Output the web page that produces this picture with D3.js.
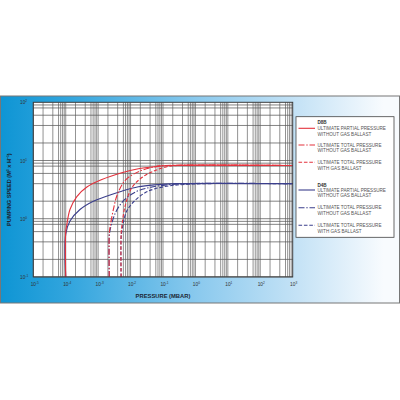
<!DOCTYPE html>
<html>
<head>
<meta charset="utf-8">
<script src="https://cdn.jsdelivr.net/npm/d3@7"></script>
<style>
  body { margin: 0; background: #fff; }
  svg { display: block; font-family: "Liberation Sans", Arial, sans-serif; }
</style>
</head>
<body>
<svg id="chart" width="400" height="400"></svg>
<script>
// pressure (mbar) / pumping speed (m3/h)
const d8bPartialP = [1e-4, 1e-4, 1.07e-4, 1.35e-4, 2.2e-4, 4.5e-4, 1.3e-3, 5.35e-3, 0.0174, 0.057, 0.15, 1000];
const d8bPartialS = [0.1, 0.6, 0.76, 1.44, 2.4, 3.5, 4.7, 6.15, 7.2, 7.85, 8.2, 8.2];
const d8bTotalP = [2.2e-3, 2.2e-3, 2.35e-3, 2.95e-3, 4.0e-3, 7.2e-3, 0.0185, 0.06, 0.12, 1000];
const d8bTotalS = [0.1, 0.55, 0.74, 1.44, 2.7, 4.7, 6.5, 7.85, 8.2, 8.2];
const d8bBallastP = [5.1e-3, 5.1e-3, 5.37e-3, 6.76e-3, 0.0109, 0.0235, 0.06, 0.155, 0.28, 1000];
const d8bBallastS = [0.1, 0.55, 0.74, 1.64, 3.4, 5.2, 6.8, 8.0, 8.2, 8.2];

const d4bPartialP = [1e-4, 1e-4, 1.35e-4, 2.75e-4, 7.1e-4, 1.63e-3, 5.35e-3, 0.0174, 0.057, 0.25, 1000];
const d4bPartialS = [0.1, 0.54, 0.91, 1.44, 2.0, 2.38, 2.97, 3.53, 3.82, 4.0, 4.0];
const d4bTotalP = [2.2e-3, 2.2e-3, 2.35e-3, 3.5e-3, 6.4e-3, 0.0145, 0.04, 0.13, 0.5, 1000];
const d4bTotalS = [0.1, 0.5, 0.65, 1.3, 2.1, 2.9, 3.45, 3.8, 4.0, 4.0];
const d4bBallastP = [5.1e-3, 5.1e-3, 5.37e-3, 7.6e-3, 0.0145, 0.028, 0.057, 0.187, 0.6, 2, 1000];
const d4bBallastS = [0.1, 0.45, 0.6, 1.35, 2.12, 2.79, 3.27, 3.72, 3.9, 4.0, 4.0];

const xExponents = [-5, -4, -3, -2, -1, 0, 1, 2, 3];
const yExponents = [-1, 0, 1, 2];
// the printed grid only carries some of the minor lines per decade
const xGridMults = [1, 2, 4, 6, 7, 8, 9];
const yGridMults = [1, 2, 4, 6, 8, 9];

const legendGroups = ["D8B", "D4B"];
const legendLabels = [
  ["ULTIMATE PARTIAL PRESSURE", "WITHOUT GAS BALLAST"],
  ["ULTIMATE TOTAL PRESSURE", "WITHOUT GAS BALLAST"],
  ["ULTIMATE TOTAL PRESSURE", "WITH GAS BALLAST"]
];

const red = "#e3323c", blue = "#3b3f8c";
const dashDot = "6,1.8,1.4,1.8", dashed = "3.6,1.8";

const series = [
  {p: d4bPartialP, s: d4bPartialS, color: blue, dash: null},
  {p: d4bTotalP, s: d4bTotalS, color: blue, dash: dashDot},
  {p: d4bBallastP, s: d4bBallastS, color: blue, dash: dashed},
  {p: d8bPartialP, s: d8bPartialS, color: red, dash: null},
  {p: d8bTotalP, s: d8bTotalS, color: red, dash: dashDot},
  {p: d8bBallastP, s: d8bBallastS, color: red, dash: dashed}
];

const svg = d3.select("#chart");
const plotL = 33.3, plotR = 292.7, plotT = 102.3, plotB = 276.9;

// background panel
const grad = svg.append("defs").append("linearGradient")
    .attr("id", "bg").attr("x1", "0%").attr("x2", "100%");
[["0%", "#0e95d4"], ["18%", "#34a6de"], ["50%", "#8ccaee"], ["75%", "#c6e3f6"], ["96%", "#f8fbfe"]]
  .forEach(([o, c]) => grad.append("stop").attr("offset", o).attr("stop-color", c));

svg.append("rect")
    .attr("x", 0.5).attr("y", 96).attr("width", 399).attr("height", 207)
    .attr("fill", "url(#bg)").attr("stroke", "#777").attr("stroke-width", 1);

const x = d3.scaleLog().domain([1e-5, 1e3]).range([plotL, plotR]);
const y = d3.scaleLog().domain([0.1, 100]).range([plotB, plotT]);

svg.append("rect")
    .attr("x", plotL).attr("y", plotT).attr("width", plotR - plotL).attr("height", plotB - plotT)
    .attr("fill", "#fff");

// log grid
const xGrid = [], yGrid = [];
xExponents.slice(0, -1).forEach(e => xGridMults.forEach(m => xGrid.push(m * Math.pow(10, e))));
yExponents.slice(0, -1).forEach(e => yGridMults.forEach(m => yGrid.push(m * Math.pow(10, e))));

svg.append("g").selectAll("line").data(xGrid).join("line")
    .attr("x1", d => x(d)).attr("x2", d => x(d))
    .attr("y1", plotT).attr("y2", plotB)
    .attr("stroke", "#6e6e6e").attr("stroke-width", 0.75);
svg.append("g").selectAll("line").data(yGrid).join("line")
    .attr("y1", d => y(d)).attr("y2", d => y(d))
    .attr("x1", plotL).attr("x2", plotR)
    .attr("stroke", "#5a5a5a").attr("stroke-width", 0.75);

// curves
const line = d3.line()
    .x(d => x(d[0])).y(d => y(d[1]))
    .curve(d3.curveCatmullRom.alpha(0.5));

svg.append("g").selectAll("path").data(series).join("path")
    .attr("d", d => line(d.p.map((v, i) => [v, d.s[i]])))
    .attr("fill", "none")
    .attr("stroke", d => d.color)
    .attr("stroke-width", 1.1)
    .attr("stroke-dasharray", d => d.dash);

svg.append("rect")
    .attr("x", plotL).attr("y", plotT).attr("width", plotR - plotL).attr("height", plotB - plotT)
    .attr("fill", "none").attr("stroke", "#3c3c3c").attr("stroke-width", 1);

// tick labels with superscript exponents
const xt = svg.append("g").selectAll("text").data(xExponents).join("text")
    .attr("x", d => x(Math.pow(10, d)) - 2.6)
    .attr("y", 286)
    .attr("font-size", 4.8).attr("fill", "#333");
xt.append("tspan").text("10");
xt.append("tspan").attr("font-size", 3.2).attr("dy", -2).text(d => d);

const yt = svg.append("g").selectAll("text").data(yExponents).join("text")
    .attr("x", 20)
    .attr("y", d => y(Math.pow(10, d)) + 2)
    .attr("font-size", 4.8).attr("fill", "#333");
yt.append("tspan").text("10");
yt.append("tspan").attr("font-size", 3.2).attr("dy", -2).text(d => d);

svg.append("text")
    .attr("x", (plotL + plotR) / 2).attr("y", 298)
    .attr("text-anchor", "middle")
    .attr("font-size", 5.8).attr("font-weight", "bold").attr("fill", "#1c2633")
    .text("PRESSURE (MBAR)");

svg.append("text")
    .attr("transform", `translate(10.5,${(plotT + plotB) / 2}) rotate(-90)`)
    .attr("text-anchor", "middle")
    .attr("font-size", 5.6).attr("font-weight", "bold").attr("fill", "#1c2633")
    .text("PUMPING SPEED (M³ x H⁻¹)");

// legend
svg.append("rect")
    .attr("x", 296).attr("y", 116.7).attr("width", 98).attr("height", 120.6)
    .attr("fill", "#fff").attr("stroke", "#444").attr("stroke-width", 0.8);

const lg = svg.append("g").selectAll("g").data(series.slice(3).concat(series.slice(0, 3))).join("g")
    .attr("transform", (d, i) => `translate(0,${[128.3, 145, 162.3, 190, 207.7, 225.3][i]})`);

lg.append("line")
    .attr("x1", 298.5).attr("x2", 315).attr("y1", 0).attr("y2", 0)
    .attr("stroke", d => d.color).attr("stroke-width", 1.1)
    .attr("stroke-dasharray", d => d.dash);

lg.each(function(d, i) {
  const t = d3.select(this).append("text")
      .attr("x", 317.5).attr("y", 1.7)
      .attr("font-size", 4.6).attr("fill", "#555");
  legendLabels[i % 3].forEach((s, k) =>
    t.append("tspan").attr("x", 317.5).attr("dy", k ? 5.6 : 0).text(s));
});

svg.append("g").selectAll("text").data(legendGroups).join("text")
    .attr("x", 317.5).attr("y", (d, i) => [123.7, 186.8][i])
    .attr("font-size", 4.6).attr("font-weight", "bold").attr("fill", "#333")
    .text(d => d);
</script>
</body>
</html>
